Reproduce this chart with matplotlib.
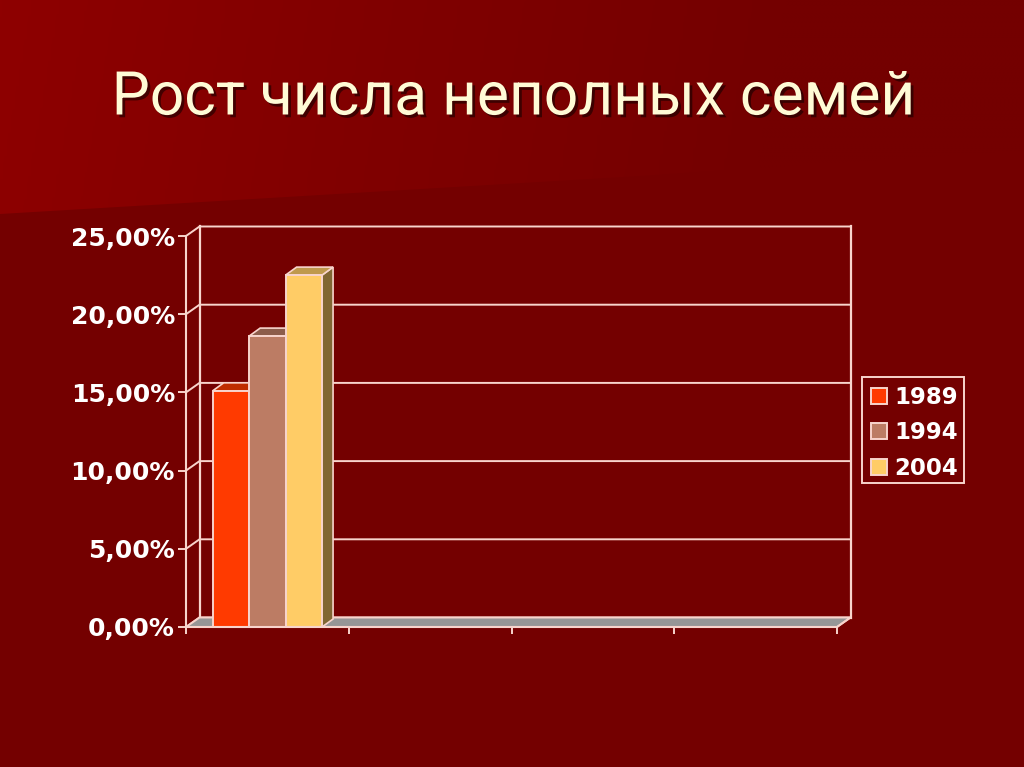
import numpy as np
import matplotlib
matplotlib.use("Agg")
import matplotlib.pyplot as plt
import matplotlib.patheffects as pe
from matplotlib.patches import Polygon, Rectangle
from matplotlib.colors import LinearSegmentedColormap

TITLE = "Рост числа неполных семей"
years = ["1989", "1994", "2004"]
values = [15.1, 18.6, 22.5]
front_colors = ["#ff3a00", "#bc7c64", "#ffcc66"]
top_colors = ["#bf2d00", "#8d5d4b", "#bf994d"]
side_colors = ["#802000", "#5e3e32", "#806633"]
y_ticks = [0, 5, 10, 15, 20, 25]
y_labels = ["0,00%", "5,00%", "10,00%", "15,00%", "20,00%", "25,00%"]
x_ticks = [0, 1, 2, 3, 4]
LINE = "#f8d4cc"
BASE = "#740000"
W, H = 1024, 767

fig = plt.figure(figsize=(W / 100, H / 100), dpi=100, facecolor=BASE)

# background
bg = fig.add_axes([0, 0, 1, 1], zorder=0)
bg.set_xlim(0, W); bg.set_ylim(H, 0); bg.axis("off")
cmap = LinearSegmentedColormap.from_list("bg", ["#8e0000", "#800000", BASE])
xx, yy = np.meshgrid(np.linspace(0, 1, 256), np.linspace(0, 1, 128))
im = bg.imshow(np.clip(xx * 1.3 + yy * 0.05, 0, 1), cmap=cmap, vmin=0, vmax=1,
               extent=[0, W, 230, 0], aspect="auto", zorder=1)
clip = Polygon([(0, 0), (W, 0), (W, 150), (640, 176), (0, 214)], transform=bg.transData,
               fc="none", ec="none")
bg.add_patch(clip)
im.set_clip_path(clip)
bg.set_xlim(0, W); bg.set_ylim(H, 0)

bg.text(513, 98, TITLE, ha="center", va="center", fontsize=43.5, family="Roboto",
        color="#fffbd6", zorder=3,
        path_effects=[pe.SimplePatchShadow(offset=(2, -2), shadow_rgbFace="#000000", alpha=0.5),
                      pe.Normal()])

# legend frame
bg.add_patch(Rectangle((862, 377), 102, 106, fc="none", ec=LINE, lw=1.4, zorder=3))

# chart: axes is the front plane of the 3-D box
L, R, T, B = 186, 837, 236, 627
ax = fig.add_axes([L / W, 1 - B / H, (R - L) / W, (B - T) / H], zorder=2)
ax.patch.set_alpha(0)
ax.set_xlim(x_ticks[0], x_ticks[-1])
ax.set_ylim(y_ticks[0], y_ticks[-1])
px_x = (R - L) / x_ticks[-1]
px_y = (B - T) / y_ticks[-1]
dx, dy = 13.5 / px_x, 9.5 / px_y      # depth of the box
bdx, bdy = 11 / px_x, 8 / px_y        # depth of the bars
xmin, xmax = x_ticks[0], x_ticks[-1]

# floor
ax.add_patch(Polygon([(xmin, 0), (xmax, 0), (xmax + dx, dy), (xmin + dx, dy)],
                     fc="#969696", ec=LINE, lw=1.4, zorder=1, clip_on=False))
# back wall and grid
for t in y_ticks:
    ax.plot([xmin, xmin + dx, xmax + dx], [t, t + dy, t + dy], color=LINE, lw=1.4,
            zorder=0.5, clip_on=False)
ax.plot([xmin + dx] * 2, [dy, y_ticks[-1] + dy], color=LINE, lw=1.6, zorder=0.5, clip_on=False)
ax.plot([xmax + dx] * 2, [dy, y_ticks[-1] + dy], color=LINE, lw=1.6, zorder=0.5, clip_on=False)
ax.plot([xmax, xmax + dx], [0, dy], color=LINE, lw=1.4, zorder=1.5, clip_on=False)

# bars
bw = 0.224
x0 = 0.5 - bw * len(values) / 2
for i, (v, yr) in enumerate(zip(values, years)):
    left = x0 + i * bw
    right = left + bw
    ax.add_patch(Polygon([(right, 0), (right + bdx, bdy), (right + bdx, v + bdy), (right, v)],
                         fc=side_colors[i], ec=LINE, lw=1.2, zorder=2 + i, clip_on=False))
    ax.add_patch(Polygon([(left, v), (left + bdx, v + bdy), (right + bdx, v + bdy), (right, v)],
                         fc=top_colors[i], ec=LINE, lw=1.2, zorder=2 + i, clip_on=False))
    ax.bar(left, v, bw, align="edge", color=front_colors[i], edgecolor=LINE, lw=1.4,
           zorder=2.5 + i, label=yr, clip_on=False)

# axes
for s in ("top", "right"):
    ax.spines[s].set_visible(False)
for s in ("left", "bottom"):
    ax.spines[s].set_color(LINE)
    ax.spines[s].set_linewidth(1.5)
    ax.spines[s].set_zorder(6)
ax.set_xticks(x_ticks, [""] * len(x_ticks))
ax.set_yticks(y_ticks, y_labels)
ax.tick_params(axis="x", color=LINE, length=5, width=1.4)
ax.tick_params(axis="y", color=LINE, length=6, width=1.4, pad=2, labelcolor="white", labelsize=18)
for lb in ax.get_yticklabels():
    lb.set_fontweight("bold")
    lb.set_family("DejaVu Sans")

leg = ax.legend(loc="upper left", bbox_to_anchor=(865 / W, 1 - 380 / H),
                bbox_transform=fig.transFigure, frameon=False,
                borderaxespad=0, handlelength=0.72, handleheight=0.72,
                handletextpad=0.3, labelspacing=0.55, borderpad=0.25,
                prop={"family": "DejaVu Sans", "weight": "bold", "size": 16.5})
for txt in leg.get_texts():
    txt.set_color("white")

fig.savefig("out.png", dpi=100, facecolor=fig.get_facecolor())
